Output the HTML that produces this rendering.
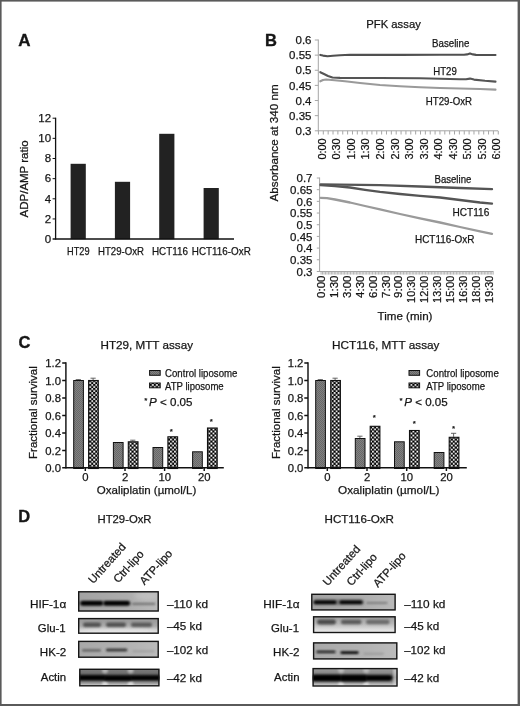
<!DOCTYPE html>
<html lang="en">
<head>
<meta charset="utf-8">
<title>Figure</title>
<style>
html,body{margin:0;padding:0;background:#fff;}
body{width:520px;height:706px;overflow:hidden;position:relative;}
svg{display:block;position:absolute;left:0;top:0;filter:blur(0.35px);}
text{font-family:"Liberation Sans",Arial,Helvetica,sans-serif;fill:#161616;stroke:#161616;stroke-width:0.25;stroke-linejoin:round;}
.b{font-weight:bold;stroke-width:0.35;}
</style>
</head>
<body>
<svg width="520" height="706" viewBox="0 0 520 706">
<defs>
<pattern id="pchk" patternUnits="userSpaceOnUse" width="4.04" height="4.04" x="0.3" y="0.2"><rect width="4.04" height="4.04" fill="#000"/><rect x="2.12" y="0.1" width="1.8" height="1.8" fill="#fff"/><rect x="0.1" y="2.12" width="1.8" height="1.8" fill="#fff"/></pattern>
<pattern id="pgray" patternUnits="userSpaceOnUse" width="2" height="2"><rect width="2" height="2" fill="#828282"/><rect x="0" y="0" width="1" height="1" fill="#686868"/><rect x="1" y="1" width="1" height="1" fill="#686868"/></pattern>
<filter id="bl1" x="-20%" y="-150%" width="140%" height="400%"><feGaussianBlur stdDeviation="0.8"/></filter>
<filter id="bl2" x="-20%" y="-150%" width="140%" height="400%"><feGaussianBlur stdDeviation="1.3"/></filter>
<filter id="bl3" x="-20%" y="-150%" width="140%" height="400%"><feGaussianBlur stdDeviation="2.2"/></filter>
<linearGradient id="gbgL" x1="0" y1="0" x2="1" y2="0"><stop offset="0" stop-color="#a2a2a2"/><stop offset="0.6" stop-color="#adadad"/><stop offset="1" stop-color="#bababa"/></linearGradient>
<linearGradient id="gbgL3" x1="0" y1="0" x2="1" y2="0"><stop offset="0" stop-color="#a8a8a8"/><stop offset="0.6" stop-color="#b2b2b2"/><stop offset="1" stop-color="#bcbcbc"/></linearGradient>
<linearGradient id="gbgV" x1="0" y1="0" x2="0" y2="1"><stop offset="0" stop-color="#969696"/><stop offset="0.5" stop-color="#a8a8a8"/><stop offset="0.78" stop-color="#c8c8c8"/><stop offset="1" stop-color="#dcdcdc"/></linearGradient>
<linearGradient id="gbgV2" x1="0" y1="0" x2="0" y2="1"><stop offset="0" stop-color="#9c9c9c"/><stop offset="0.45" stop-color="#b8b8b8"/><stop offset="0.75" stop-color="#dadada"/><stop offset="1" stop-color="#f0f0f0"/></linearGradient>
<linearGradient id="gbgA" x1="0" y1="0" x2="0" y2="1"><stop offset="0" stop-color="#7e7e7e"/><stop offset="0.25" stop-color="#6e6e6e"/><stop offset="0.5" stop-color="#3c3c3c"/><stop offset="0.72" stop-color="#7c7c7c"/><stop offset="0.86" stop-color="#a8a8a8"/><stop offset="1" stop-color="#ececec"/></linearGradient>
<linearGradient id="gbgA2" x1="0" y1="0" x2="0" y2="1"><stop offset="0" stop-color="#a0a0a0"/><stop offset="0.25" stop-color="#8a8a8a"/><stop offset="0.5" stop-color="#555"/><stop offset="0.75" stop-color="#8c8c8c"/><stop offset="0.88" stop-color="#b8b8b8"/><stop offset="1" stop-color="#e6e6e6"/></linearGradient>
</defs>
<rect x="0" y="0" width="520" height="706" fill="#fff"/>
<!-- frame -->
<rect x="0" y="0" width="520" height="1.6" fill="#5a5a5a"/>
<rect x="0" y="0" width="1.6" height="706" fill="#5a5a5a"/>
<rect x="517.6" y="0" width="2.4" height="706" fill="#5a5a5a"/>
<rect x="0" y="704" width="520" height="2" fill="#5a5a5a"/>
<!-- ============ PANEL A ============ -->
<g id="panelA">
<text x="18.3" y="46.1" font-size="17" class="b">A</text>
<g fill="#222">
<rect x="70.6" y="163.8" width="15.2" height="75.4"/>
<rect x="114.9" y="181.8" width="15.2" height="57.4"/>
<rect x="159.2" y="133.8" width="15.2" height="105.4"/>
<rect x="203.6" y="188" width="15.2" height="51.2"/>
</g>
<g stroke="#111" stroke-width="1.3" fill="none">
<path d="M55.6 117.7 V239.6"/>
<path d="M52.6 239 H234"/>
</g>
<path stroke="#111" stroke-width="1" fill="none" d="M52.6 118.2 H55.6 M52.6 138.35 H55.6 M52.6 158.5 H55.6 M52.6 178.65 H55.6 M52.6 198.8 H55.6 M52.6 218.95 H55.6"/>
<g text-anchor="end">
<text x="51.1" y="121.7" font-size="11.5">12</text>
<text x="51.1" y="141.9" font-size="11.5">10</text>
<text x="51.1" y="162.1" font-size="11.5">8</text>
<text x="51.1" y="182.3" font-size="11.5">6</text>
<text x="51.1" y="202.5" font-size="11.5">4</text>
<text x="51.1" y="222.7" font-size="11.5">2</text>
<text x="51.1" y="242.9" font-size="11.5">0</text>
</g>
<text transform="translate(28.4 178.9) rotate(-90)" font-size="11" text-anchor="middle" textLength="77" lengthAdjust="spacingAndGlyphs">ADP/AMP ratio</text>
<text x="67" y="255.3" font-size="10.7" textLength="22.5" lengthAdjust="spacingAndGlyphs">HT29</text>
<text x="98" y="255.3" font-size="10.7" textLength="46" lengthAdjust="spacingAndGlyphs">HT29-OxR</text>
<text x="152" y="255.3" font-size="10.7" textLength="36" lengthAdjust="spacingAndGlyphs">HCT116</text>
<text x="191.8" y="255.3" font-size="10.7" textLength="59" lengthAdjust="spacingAndGlyphs">HCT116-OxR</text>
</g>
<!-- ============ PANEL B ============ -->
<g id="panelB">
<text x="265" y="45.8" font-size="16.5" class="b">B</text>
<text x="366.3" y="27.5" font-size="11.3" textLength="54.5" lengthAdjust="spacingAndGlyphs">PFK assay</text>
<g stroke="#a6a6a6" stroke-width="1" fill="none">
<path d="M318.3 39.5 V131.3"/>
<path d="M314.8 130.8 H498"/>
<path d="M314.8 40.00 H318.3 M314.8 55.13 H318.3 M314.8 70.26 H318.3 M314.8 85.39 H318.3 M314.8 100.52 H318.3 M314.8 115.65 H318.3 "/>
<path d="M318.45 130.8 V134.5 M323.31 130.8 V134.5 M328.17 130.8 V134.5 M333.03 130.8 V134.5 M337.89 130.8 V134.5 M342.75 130.8 V134.5 M347.61 130.8 V134.5 M352.47 130.8 V134.5 M357.33 130.8 V134.5 M362.19 130.8 V134.5 M367.05 130.8 V134.5 M371.91 130.8 V134.5 M376.77 130.8 V134.5 M381.63 130.8 V134.5 M386.49 130.8 V134.5 M391.35 130.8 V134.5 M396.21 130.8 V134.5 M401.07 130.8 V134.5 M405.93 130.8 V134.5 M410.79 130.8 V134.5 M415.65 130.8 V134.5 M420.51 130.8 V134.5 M425.37 130.8 V134.5 M430.23 130.8 V134.5 M435.09 130.8 V134.5 M439.95 130.8 V134.5 M444.81 130.8 V134.5 M449.67 130.8 V134.5 M454.53 130.8 V134.5 M459.39 130.8 V134.5 M464.25 130.8 V134.5 M469.11 130.8 V134.5 M473.97 130.8 V134.5 M478.83 130.8 V134.5 M483.69 130.8 V134.5 M488.55 130.8 V134.5 M493.41 130.8 V134.5 M498.27 130.8 V134.5 "/>
</g>
<g text-anchor="end">
<text x="311.5" y="44.1" font-size="11.5">0.6</text>
<text x="311.5" y="59.3" font-size="11.5">0.55</text>
<text x="311.5" y="74.4" font-size="11.5">0.5</text>
<text x="311.5" y="89.6" font-size="11.5">0.45</text>
<text x="311.5" y="104.7" font-size="11.5">0.4</text>
<text x="311.5" y="119.9" font-size="11.5">0.35</text>
<text x="311.5" y="135.1" font-size="11.5">0.3</text>
</g>
<text transform="translate(325.8 138.3) rotate(-90)" font-size="10.8" text-anchor="end" textLength="21.3" lengthAdjust="spacingAndGlyphs">0:00</text>
<text transform="translate(340.35 138.3) rotate(-90)" font-size="10.8" text-anchor="end" textLength="21.3" lengthAdjust="spacingAndGlyphs">0:30</text>
<text transform="translate(354.9 138.3) rotate(-90)" font-size="10.8" text-anchor="end" textLength="21.3" lengthAdjust="spacingAndGlyphs">1:00</text>
<text transform="translate(369.45 138.3) rotate(-90)" font-size="10.8" text-anchor="end" textLength="21.3" lengthAdjust="spacingAndGlyphs">1:30</text>
<text transform="translate(384.0 138.3) rotate(-90)" font-size="10.8" text-anchor="end" textLength="21.3" lengthAdjust="spacingAndGlyphs">2:00</text>
<text transform="translate(398.55 138.3) rotate(-90)" font-size="10.8" text-anchor="end" textLength="21.3" lengthAdjust="spacingAndGlyphs">2:30</text>
<text transform="translate(413.1 138.3) rotate(-90)" font-size="10.8" text-anchor="end" textLength="21.3" lengthAdjust="spacingAndGlyphs">3:00</text>
<text transform="translate(427.65 138.3) rotate(-90)" font-size="10.8" text-anchor="end" textLength="21.3" lengthAdjust="spacingAndGlyphs">3:30</text>
<text transform="translate(442.2 138.3) rotate(-90)" font-size="10.8" text-anchor="end" textLength="21.3" lengthAdjust="spacingAndGlyphs">4:00</text>
<text transform="translate(456.75 138.3) rotate(-90)" font-size="10.8" text-anchor="end" textLength="21.3" lengthAdjust="spacingAndGlyphs">4:30</text>
<text transform="translate(471.3 138.3) rotate(-90)" font-size="10.8" text-anchor="end" textLength="21.3" lengthAdjust="spacingAndGlyphs">5:00</text>
<text transform="translate(485.85 138.3) rotate(-90)" font-size="10.8" text-anchor="end" textLength="21.3" lengthAdjust="spacingAndGlyphs">5:30</text>
<text transform="translate(500.4 138.3) rotate(-90)" font-size="10.8" text-anchor="end" textLength="21.3" lengthAdjust="spacingAndGlyphs">6:00</text>
<g fill="none" stroke-width="2.1" stroke-linecap="round" stroke-linejoin="round">
<path stroke="#505050" d="M320.3 54.9 L323 55.6 L327.5 56.2 L333 55.8 L340 55.2 L350 54.8 L400 54.9 L440 54.8 L464 54.8 L467 54.4 L470 53.4 L473 54.4 L476 54.9 L495.5 55"/>
<path stroke="#555" d="M320.3 72.2 L324 74 L328 76 L332.5 77.5 L340 77.9 L380 78 L420 78.3 L460 79.2 L466 79.3 L470 78.6 L474 79.6 L485 80.8 L495.5 81.6"/>
<path stroke="#9a9a9a" d="M320.3 81.3 L323 80 L326 79.5 L332 80 L345 81.3 L360 83 L380 85 L400 86.3 L420 87.3 L440 88 L460 88.5 L480 89 L495.5 89.6"/>
</g>
<text x="432" y="46.8" font-size="10.8" textLength="37.3" lengthAdjust="spacingAndGlyphs">Baseline</text>
<text x="433.3" y="74.7" font-size="10.5" textLength="23.5" lengthAdjust="spacingAndGlyphs">HT29</text>
<text x="425.8" y="104.6" font-size="10.8" textLength="46.2" lengthAdjust="spacingAndGlyphs">HT29-OxR</text>
<text transform="translate(277.9 142.9) rotate(-90)" font-size="11.4" text-anchor="middle" textLength="117" lengthAdjust="spacingAndGlyphs">Absorbance at 340 nm</text>
<g stroke="#a6a6a6" stroke-width="1" fill="none">
<path d="M319.6 177.5 V272"/>
<path d="M316.8 271.5 H493.5"/>
<path d="M316.8 178.00 H319.6 M316.8 189.68 H319.6 M316.8 201.36 H319.6 M316.8 213.04 H319.6 M316.8 224.72 H319.6 M316.8 236.40 H319.6 M316.8 248.08 H319.6 M316.8 259.76 H319.6 "/>
</g>
<path stroke="#a6a6a6" stroke-width="0.85" fill="none" d="M321.07 271.5 V274.6 M322.54 271.5 V274.6 M324.01 271.5 V274.6 M325.48 271.5 V274.6 M326.96 271.5 V274.6 M328.43 271.5 V274.6 M329.90 271.5 V274.6 M331.37 271.5 V274.6 M332.84 271.5 V274.6 M334.31 271.5 V274.6 M335.78 271.5 V274.6 M337.25 271.5 V274.6 M338.73 271.5 V274.6 M340.20 271.5 V274.6 M341.67 271.5 V274.6 M343.14 271.5 V274.6 M344.61 271.5 V274.6 M346.08 271.5 V274.6 M347.55 271.5 V274.6 M349.02 271.5 V274.6 M350.49 271.5 V274.6 M351.97 271.5 V274.6 M353.44 271.5 V274.6 M354.91 271.5 V274.6 M356.38 271.5 V274.6 M357.85 271.5 V274.6 M359.32 271.5 V274.6 M360.79 271.5 V274.6 M362.26 271.5 V274.6 M363.74 271.5 V274.6 M365.21 271.5 V274.6 M366.68 271.5 V274.6 M368.15 271.5 V274.6 M369.62 271.5 V274.6 M371.09 271.5 V274.6 M372.56 271.5 V274.6 M374.03 271.5 V274.6 M375.51 271.5 V274.6 M376.98 271.5 V274.6 M378.45 271.5 V274.6 M379.92 271.5 V274.6 M381.39 271.5 V274.6 M382.86 271.5 V274.6 M384.33 271.5 V274.6 M385.80 271.5 V274.6 M387.27 271.5 V274.6 M388.75 271.5 V274.6 M390.22 271.5 V274.6 M391.69 271.5 V274.6 M393.16 271.5 V274.6 M394.63 271.5 V274.6 M396.10 271.5 V274.6 M397.57 271.5 V274.6 M399.04 271.5 V274.6 M400.52 271.5 V274.6 M401.99 271.5 V274.6 M403.46 271.5 V274.6 M404.93 271.5 V274.6 M406.40 271.5 V274.6 M407.87 271.5 V274.6 M409.34 271.5 V274.6 M410.81 271.5 V274.6 M412.28 271.5 V274.6 M413.76 271.5 V274.6 M415.23 271.5 V274.6 M416.70 271.5 V274.6 M418.17 271.5 V274.6 M419.64 271.5 V274.6 M421.11 271.5 V274.6 M422.58 271.5 V274.6 M424.05 271.5 V274.6 M425.53 271.5 V274.6 M427.00 271.5 V274.6 M428.47 271.5 V274.6 M429.94 271.5 V274.6 M431.41 271.5 V274.6 M432.88 271.5 V274.6 M434.35 271.5 V274.6 M435.82 271.5 V274.6 M437.29 271.5 V274.6 M438.77 271.5 V274.6 M440.24 271.5 V274.6 M441.71 271.5 V274.6 M443.18 271.5 V274.6 M444.65 271.5 V274.6 M446.12 271.5 V274.6 M447.59 271.5 V274.6 M449.06 271.5 V274.6 M450.54 271.5 V274.6 M452.01 271.5 V274.6 M453.48 271.5 V274.6 M454.95 271.5 V274.6 M456.42 271.5 V274.6 M457.89 271.5 V274.6 M459.36 271.5 V274.6 M460.83 271.5 V274.6 M462.31 271.5 V274.6 M463.78 271.5 V274.6 M465.25 271.5 V274.6 M466.72 271.5 V274.6 M468.19 271.5 V274.6 M469.66 271.5 V274.6 M471.13 271.5 V274.6 M472.60 271.5 V274.6 M474.07 271.5 V274.6 M475.55 271.5 V274.6 M477.02 271.5 V274.6 M478.49 271.5 V274.6 M479.96 271.5 V274.6 M481.43 271.5 V274.6 M482.90 271.5 V274.6 M484.37 271.5 V274.6 M485.84 271.5 V274.6 M487.32 271.5 V274.6 M488.79 271.5 V274.6 M490.26 271.5 V274.6 M491.73 271.5 V274.6 M493.20 271.5 V274.6 "/>
<g text-anchor="end">
<text x="312.5" y="182.2" font-size="11.5">0.7</text>
<text x="312.5" y="193.9" font-size="11.5">0.65</text>
<text x="312.5" y="205.6" font-size="11.5">0.6</text>
<text x="312.5" y="217.3" font-size="11.5">0.55</text>
<text x="312.5" y="229.0" font-size="11.5">0.5</text>
<text x="312.5" y="240.7" font-size="11.5">0.45</text>
<text x="312.5" y="252.4" font-size="11.5">0.4</text>
<text x="312.5" y="264.1" font-size="11.5">0.35</text>
<text x="312.5" y="275.8" font-size="11.5">0.3</text>
</g>
<text transform="translate(325.0 275.7) rotate(-90)" font-size="10.8" text-anchor="end" textLength="22.2" lengthAdjust="spacingAndGlyphs">0:00</text>
<text transform="translate(337.91 275.7) rotate(-90)" font-size="10.8" text-anchor="end" textLength="22.2" lengthAdjust="spacingAndGlyphs">1:30</text>
<text transform="translate(350.82 275.7) rotate(-90)" font-size="10.8" text-anchor="end" textLength="22.2" lengthAdjust="spacingAndGlyphs">3:00</text>
<text transform="translate(363.73 275.7) rotate(-90)" font-size="10.8" text-anchor="end" textLength="22.2" lengthAdjust="spacingAndGlyphs">4:30</text>
<text transform="translate(376.64 275.7) rotate(-90)" font-size="10.8" text-anchor="end" textLength="22.2" lengthAdjust="spacingAndGlyphs">6:00</text>
<text transform="translate(389.55 275.7) rotate(-90)" font-size="10.8" text-anchor="end" textLength="22.2" lengthAdjust="spacingAndGlyphs">7:30</text>
<text transform="translate(402.46 275.7) rotate(-90)" font-size="10.8" text-anchor="end" textLength="22.2" lengthAdjust="spacingAndGlyphs">9:00</text>
<text transform="translate(415.37 275.7) rotate(-90)" font-size="10.8" text-anchor="end" textLength="27.2" lengthAdjust="spacingAndGlyphs">10:30</text>
<text transform="translate(428.28 275.7) rotate(-90)" font-size="10.8" text-anchor="end" textLength="27.2" lengthAdjust="spacingAndGlyphs">12:00</text>
<text transform="translate(441.19 275.7) rotate(-90)" font-size="10.8" text-anchor="end" textLength="27.2" lengthAdjust="spacingAndGlyphs">13:30</text>
<text transform="translate(454.1 275.7) rotate(-90)" font-size="10.8" text-anchor="end" textLength="27.2" lengthAdjust="spacingAndGlyphs">15:00</text>
<text transform="translate(467.01 275.7) rotate(-90)" font-size="10.8" text-anchor="end" textLength="27.2" lengthAdjust="spacingAndGlyphs">16:30</text>
<text transform="translate(479.92 275.7) rotate(-90)" font-size="10.8" text-anchor="end" textLength="27.2" lengthAdjust="spacingAndGlyphs">18:00</text>
<text transform="translate(492.83 275.7) rotate(-90)" font-size="10.8" text-anchor="end" textLength="27.2" lengthAdjust="spacingAndGlyphs">19:30</text>
<g fill="none" stroke-width="2.3" stroke-linecap="round" stroke-linejoin="round">
<path stroke="#555" d="M320.6 184.4 L340 184.7 L380 185.2 L420 186.5 L460 188 L492 189.2"/>
<path stroke="#555" d="M320.6 185.2 L335 186.1 L350 187.5 L365 189.8 L380 191.8 L400 194 L420 195.8 L440 197.5 L460 200 L480 202.5 L492 203.7"/>
<path stroke="#9a9a9a" d="M320.6 197.9 L327 198.1 L335 199.5 L350 202.5 L365 206 L380 209.3 L400 214 L420 218.3 L440 222.5 L460 227 L480 231.3 L492 233.8"/>
</g>
<text x="434.5" y="182.5" font-size="10.5" textLength="36.8" lengthAdjust="spacingAndGlyphs">Baseline</text>
<text x="452.5" y="215.5" font-size="10.6" textLength="36.8" lengthAdjust="spacingAndGlyphs">HCT116</text>
<text x="415" y="243" font-size="10.5" textLength="59.5" lengthAdjust="spacingAndGlyphs">HCT116-OxR</text>
<text x="377.5" y="320" font-size="11.3" textLength="55" lengthAdjust="spacingAndGlyphs">Time (min)</text>
</g>
<!-- ============ PANEL C ============ -->
<g id="panelC">
<text x="18.5" y="347.5" font-size="16.5" class="b">C</text>
<path d="M78.3 380.0 V379.6 M75.7 379.6 H80.9" stroke="#555" stroke-width="0.9" fill="none"/>
<path d="M93.1 380.0 V378.2 M90.5 378.2 H95.7" stroke="#555" stroke-width="0.9" fill="none"/>
<rect x="73.7" y="380.5" width="9.7" height="88.0" fill="url(#pgray)" stroke="#111" stroke-width="1"/>
<rect x="88.6" y="380.5" width="9.7" height="88.0" fill="url(#pchk)" stroke="#111" stroke-width="1.1"/>
<path d="M132.8 441.3 V440.2 M130.2 440.2 H135.4" stroke="#555" stroke-width="0.9" fill="none"/>
<rect x="113.4" y="442.5" width="9.7" height="26.0" fill="url(#pgray)" stroke="#111" stroke-width="1"/>
<rect x="128.3" y="441.8" width="9.7" height="26.7" fill="url(#pchk)" stroke="#111" stroke-width="1.1"/>
<rect x="153.0" y="447.5" width="9.7" height="21.0" fill="url(#pgray)" stroke="#111" stroke-width="1"/>
<rect x="167.9" y="436.8" width="9.7" height="31.7" fill="url(#pchk)" stroke="#111" stroke-width="1.1"/>
<rect x="192.6" y="451.8" width="9.7" height="16.7" fill="url(#pgray)" stroke="#111" stroke-width="1"/>
<rect x="207.5" y="428.0" width="9.7" height="40.5" fill="url(#pchk)" stroke="#111" stroke-width="1.1"/>
<g stroke="#111" stroke-width="1.45" fill="none">
<path d="M65.9 362.3 V468.5"/>
<path d="M62.2 467.8 H223.8"/>
<path d="M62.2 363.0 H65.9 M62.2 380.5 H65.9 M62.2 398.0 H65.9 M62.2 415.5 H65.9 M62.2 433.0 H65.9 M62.2 450.5 H65.9 "/>
<path d="M85.3 468.0 V471.0 M125.0 468.0 V471.0 M164.6 468.0 V471.0 M204.2 468.0 V471.0 "/>
</g>
<g text-anchor="end">
<text x="61" y="367.1" font-size="11.3">1.2</text>
<text x="61" y="384.6" font-size="11.3">1.0</text>
<text x="61" y="402.1" font-size="11.3">0.8</text>
<text x="61" y="419.6" font-size="11.3">0.6</text>
<text x="61" y="437.1" font-size="11.3">0.4</text>
<text x="61" y="454.6" font-size="11.3">0.2</text>
<text x="61" y="472.1" font-size="11.3">0.0</text>
</g>
<g text-anchor="middle">
<text x="85.4" y="481.3" font-size="11.3">0</text>
<text x="125.1" y="481.3" font-size="11.3">2</text>
<text x="164.7" y="481.3" font-size="11.3">10</text>
<text x="204.3" y="481.3" font-size="11.3">20</text>
</g>
<text transform="translate(37.3 412.6) rotate(-90)" font-size="11.4" text-anchor="middle" textLength="92.8" lengthAdjust="spacingAndGlyphs">Fractional survival</text>
<text x="96.8" y="494.3" font-size="11.4" textLength="99.5" lengthAdjust="spacingAndGlyphs">Oxaliplatin (µmol/L)</text>
<text x="100.5" y="349.3" font-size="11.4" textLength="92.5" lengthAdjust="spacingAndGlyphs">HT29, MTT assay</text>
<rect x="149.6" y="370.5" width="10.6" height="4.8" fill="url(#pgray)" stroke="#111" stroke-width="1"/>
<rect x="149.6" y="383" width="10.6" height="4.8" fill="url(#pchk)" stroke="#111" stroke-width="1"/>
<text x="165" y="376.8" font-size="10.9" textLength="72.5" lengthAdjust="spacingAndGlyphs">Control liposome</text>
<text x="165" y="390" font-size="10.9" textLength="58.7" lengthAdjust="spacingAndGlyphs">ATP liposome</text>
<text x="144.3" y="405.5" font-size="11.6" textLength="48.2" lengthAdjust="spacingAndGlyphs"><tspan font-size="8" dy="-2.8">*</tspan><tspan dy="2.8" dx="1.6" font-style="italic">P</tspan> &lt; 0.05</text>
<text x="171.3" y="433.5" font-size="8" text-anchor="middle">*</text>
<text x="211.3" y="423.7" font-size="8" text-anchor="middle">*</text>
<path d="M320.3 380.0 V379.6 M317.7 379.6 H322.9" stroke="#555" stroke-width="0.9" fill="none"/>
<path d="M335.1 380.0 V378.2 M332.5 378.2 H337.7" stroke="#555" stroke-width="0.9" fill="none"/>
<rect x="315.7" y="380.5" width="9.7" height="88.0" fill="url(#pgray)" stroke="#111" stroke-width="1"/>
<rect x="330.7" y="380.5" width="9.7" height="88.0" fill="url(#pchk)" stroke="#111" stroke-width="1.1"/>
<path d="M359.9 438.0 V436.2 M357.3 436.2 H362.5" stroke="#555" stroke-width="0.9" fill="none"/>
<rect x="355.3" y="438.5" width="9.7" height="30.0" fill="url(#pgray)" stroke="#111" stroke-width="1"/>
<rect x="370.2" y="426.3" width="9.7" height="42.2" fill="url(#pchk)" stroke="#111" stroke-width="1.1"/>
<rect x="394.5" y="441.8" width="9.7" height="26.7" fill="url(#pgray)" stroke="#111" stroke-width="1"/>
<rect x="409.5" y="430.5" width="9.7" height="38.0" fill="url(#pchk)" stroke="#111" stroke-width="1.1"/>
<path d="M453.6 436.8 V433.3 M451.0 433.3 H456.2" stroke="#555" stroke-width="0.9" fill="none"/>
<rect x="434.2" y="452.5" width="9.7" height="16.0" fill="url(#pgray)" stroke="#111" stroke-width="1"/>
<rect x="449.2" y="437.3" width="9.7" height="31.2" fill="url(#pchk)" stroke="#111" stroke-width="1.1"/>
<g stroke="#111" stroke-width="1.45" fill="none">
<path d="M308 362.3 V468.5"/>
<path d="M304.3 467.8 H466.8"/>
<path d="M304.3 363.0 H308 M304.3 380.5 H308 M304.3 398.0 H308 M304.3 415.5 H308 M304.3 433.0 H308 M304.3 450.5 H308 "/>
<path d="M327.3 468.0 V471.0 M367.0 468.0 V471.0 M406.7 468.0 V471.0 M446.4 468.0 V471.0 "/>
</g>
<g text-anchor="end">
<text x="303.4" y="367.1" font-size="11.3">1.2</text>
<text x="303.4" y="384.6" font-size="11.3">1.0</text>
<text x="303.4" y="402.1" font-size="11.3">0.8</text>
<text x="303.4" y="419.6" font-size="11.3">0.6</text>
<text x="303.4" y="437.1" font-size="11.3">0.4</text>
<text x="303.4" y="454.6" font-size="11.3">0.2</text>
<text x="303.4" y="472.1" font-size="11.3">0.0</text>
</g>
<g text-anchor="middle">
<text x="327.4" y="481.3" font-size="11.3">0</text>
<text x="367.1" y="481.3" font-size="11.3">2</text>
<text x="406.8" y="481.3" font-size="11.3">10</text>
<text x="446.5" y="481.3" font-size="11.3">20</text>
</g>
<text transform="translate(279.8 412.6) rotate(-90)" font-size="11.4" text-anchor="middle" textLength="92.8" lengthAdjust="spacingAndGlyphs">Fractional survival</text>
<text x="338" y="494.3" font-size="11.4" textLength="101.5" lengthAdjust="spacingAndGlyphs">Oxaliplatin (µmol/L)</text>
<text x="332" y="349.3" font-size="11.4" textLength="107.5" lengthAdjust="spacingAndGlyphs">HCT116, MTT assay</text>
<rect x="409" y="370.5" width="10.6" height="4.8" fill="url(#pgray)" stroke="#111" stroke-width="1"/>
<rect x="409" y="383" width="10.6" height="4.8" fill="url(#pchk)" stroke="#111" stroke-width="1"/>
<text x="426.3" y="376.8" font-size="10.9" textLength="72.5" lengthAdjust="spacingAndGlyphs">Control liposome</text>
<text x="426.3" y="390" font-size="10.9" textLength="58.7" lengthAdjust="spacingAndGlyphs">ATP liposome</text>
<text x="399.5" y="405.5" font-size="11.6" textLength="48.2" lengthAdjust="spacingAndGlyphs"><tspan font-size="8" dy="-2.8">*</tspan><tspan dy="2.8" dx="1.6" font-style="italic">P</tspan> &lt; 0.05</text>
<text x="374.3" y="420" font-size="8" text-anchor="middle">*</text>
<text x="414.3" y="426" font-size="8" text-anchor="middle">*</text>
<text x="453.5" y="431.2" font-size="8" text-anchor="middle">*</text>
</g>
<!-- ============ PANEL D ============ -->
<g id="panelD">
<text x="18.3" y="522" font-size="16.5" class="b">D</text>
<text x="97.5" y="523" font-size="11.4" textLength="54" lengthAdjust="spacingAndGlyphs">HT29-OxR</text>
<text x="324.5" y="523" font-size="11.4" textLength="69.5" lengthAdjust="spacingAndGlyphs">HCT116-OxR</text>
<text transform="translate(93.3 584.2) rotate(-48)" font-size="11.3">Untreated</text>
<text transform="translate(118.3 583.6) rotate(-48)" font-size="11.3">Ctrl-lipo</text>
<text transform="translate(144.6 585.6) rotate(-48)" font-size="11.3">ATP-lipo</text>
<text transform="translate(327.7 586.4) rotate(-48)" font-size="11.3">Untreated</text>
<text transform="translate(351.6 586.4) rotate(-48)" font-size="11.3">Ctrl-lipo</text>
<text transform="translate(378.1 588) rotate(-48)" font-size="11.3">ATP-lipo</text>
<g text-anchor="end">
<text x="66.2" y="607.5" font-size="11.3" textLength="36.2" lengthAdjust="spacingAndGlyphs">HIF-1α</text>
<text x="65.7" y="631.5" font-size="11.3" textLength="27.9" lengthAdjust="spacingAndGlyphs">Glu-1</text>
<text x="66.2" y="656.2" font-size="11.3" textLength="26.4" lengthAdjust="spacingAndGlyphs">HK-2</text>
<text x="66.2" y="681.2" font-size="11.3" textLength="25.4" lengthAdjust="spacingAndGlyphs">Actin</text>
</g>
<g text-anchor="end">
<text x="299.5" y="607.5" font-size="11.3" textLength="36.2" lengthAdjust="spacingAndGlyphs">HIF-1α</text>
<text x="299.0" y="631.5" font-size="11.3" textLength="27.9" lengthAdjust="spacingAndGlyphs">Glu-1</text>
<text x="299.5" y="656.2" font-size="11.3" textLength="26.4" lengthAdjust="spacingAndGlyphs">HK-2</text>
<text x="299.5" y="681.2" font-size="11.3" textLength="25.4" lengthAdjust="spacingAndGlyphs">Actin</text>
</g>
<text x="166.9" y="607.7" font-size="11.5" textLength="41.2" lengthAdjust="spacingAndGlyphs">–110 kd</text>
<text x="166.9" y="629.6" font-size="11.5" textLength="35" lengthAdjust="spacingAndGlyphs">–45 kd</text>
<text x="166.9" y="654.2" font-size="11.5" textLength="41.2" lengthAdjust="spacingAndGlyphs">–102 kd</text>
<text x="166.9" y="682.1" font-size="11.5" textLength="35" lengthAdjust="spacingAndGlyphs">–42 kd</text>
<text x="404.2" y="607.7" font-size="11.5" textLength="41.2" lengthAdjust="spacingAndGlyphs">–110 kd</text>
<text x="404.2" y="629.6" font-size="11.5" textLength="35" lengthAdjust="spacingAndGlyphs">–45 kd</text>
<text x="404.2" y="654.2" font-size="11.5" textLength="41.2" lengthAdjust="spacingAndGlyphs">–102 kd</text>
<text x="404.2" y="682.1" font-size="11.5" textLength="35" lengthAdjust="spacingAndGlyphs">–42 kd</text>
<clipPath id="cb1"><rect x="78.1" y="591.2" width="80.7" height="20.4"/></clipPath>
<g clip-path="url(#cb1)">
<rect x="78.1" y="591.2" width="80.7" height="20.4" fill="url(#gbgL)"/>
<rect x="79" y="600.5" width="52.0" height="5.5" rx="2.75" fill="#222" opacity="0.3" filter="url(#bl2)"/><ellipse cx="146" cy="596" rx="12" ry="3.5" fill="#cacaca" opacity="0.6" filter="url(#bl3)"/>
<rect x="80.5" y="601.1" width="22.5" height="4.4" rx="2.2" fill="#000" opacity="1" filter="url(#bl1)"/>
<rect x="103.5" y="601.1" width="26.3" height="4.4" rx="2.2" fill="#000" opacity="1" filter="url(#bl1)"/>
<rect x="132" y="602.9" width="23.5" height="1.8" rx="0.9" fill="#555" opacity="0.8" filter="url(#bl1)"/>
</g>
<rect x="78.69999999999999" y="591.8000000000001" width="79.5" height="19.2" fill="none" stroke="#161616" stroke-width="1.4"/>
<clipPath id="cb2"><rect x="78.1" y="618" width="80.7" height="15.8"/></clipPath>
<g clip-path="url(#cb2)">
<rect x="78.1" y="618" width="80.7" height="15.8" fill="url(#gbgV)"/>
<ellipse cx="118" cy="632" rx="45" ry="3.5" fill="#eee" opacity="0.8" filter="url(#bl3)"/>
<rect x="83" y="622.6" width="18.0" height="4.4" rx="2.2" fill="#444" opacity="0.85" filter="url(#bl2)"/>
<rect x="106" y="622.6" width="20.0" height="4.4" rx="2.2" fill="#444" opacity="0.85" filter="url(#bl2)"/>
<rect x="131" y="622.6" width="21.0" height="4.4" rx="2.2" fill="#4a4a4a" opacity="0.8" filter="url(#bl2)"/>
</g>
<rect x="78.69999999999999" y="618.6" width="79.5" height="14.6" fill="none" stroke="#161616" stroke-width="1.4"/>
<clipPath id="cb3"><rect x="78.1" y="640.8" width="80.7" height="17.0"/></clipPath>
<g clip-path="url(#cb3)">
<rect x="78.1" y="640.8" width="80.7" height="17.0" fill="url(#gbgL3)"/>
<rect x="82" y="649.3" width="19.0" height="2.2" rx="1.1" fill="#444" opacity="0.75" filter="url(#bl1)"/>
<rect x="106" y="648.8" width="21.3" height="2.4" rx="1.2" fill="#1a1a1a" opacity="0.9" filter="url(#bl1)"/>
<rect x="132.5" y="650.3" width="22.1" height="2" rx="1.0" fill="#888" opacity="0.5" filter="url(#bl1)"/>
</g>
<rect x="78.69999999999999" y="641.4" width="79.5" height="15.8" fill="none" stroke="#161616" stroke-width="1.4"/>
<clipPath id="cb4"><rect x="79.2" y="668.7" width="80.3" height="17.7"/></clipPath>
<g clip-path="url(#cb4)">
<rect x="79.2" y="668.7" width="80.3" height="17.7" fill="url(#gbgA)"/>
<ellipse cx="105" cy="670.5" rx="3" ry="3" fill="#c8c8c8" opacity="0.75" filter="url(#bl2)"/><ellipse cx="105" cy="684.5" rx="3" ry="3" fill="#e4e4e4" opacity="0.85" filter="url(#bl2)"/><ellipse cx="130.6" cy="670.5" rx="3" ry="3" fill="#c8c8c8" opacity="0.75" filter="url(#bl2)"/><ellipse cx="130.6" cy="684.5" rx="3" ry="3" fill="#e4e4e4" opacity="0.85" filter="url(#bl2)"/>
<rect x="77" y="675.3" width="29.0" height="5" rx="2.5" fill="#000" opacity="1" filter="url(#bl2)"/>
<rect x="104" y="675.6" width="28.0" height="5.2" rx="2.6" fill="#000" opacity="1" filter="url(#bl2)"/>
<rect x="130" y="675.4" width="32.0" height="4.8" rx="2.4" fill="#000" opacity="1" filter="url(#bl2)"/>
</g>
<rect x="79.8" y="669.3000000000001" width="79.1" height="16.5" fill="none" stroke="#161616" stroke-width="1.4"/>
<clipPath id="cb5"><rect x="311.2" y="593.7" width="84.5" height="16.8"/></clipPath>
<g clip-path="url(#cb5)">
<rect x="311.2" y="593.7" width="84.5" height="16.8" fill="url(#gbgL)"/>
<rect x="313" y="599.3" width="51.0" height="6" rx="3.0" fill="#222" opacity="0.35" filter="url(#bl2)"/>
<rect x="313.8" y="600.6" width="22.7" height="3.4" rx="1.7" fill="#000" opacity="1" filter="url(#bl1)"/>
<rect x="339.4" y="600.6" width="23.1" height="3.4" rx="1.7" fill="#000" opacity="1" filter="url(#bl1)"/>
<rect x="366.3" y="602.0" width="21.2" height="1.8" rx="0.9" fill="#666" opacity="0.8" filter="url(#bl1)"/>
</g>
<rect x="311.8" y="594.3000000000001" width="83.3" height="15.6" fill="none" stroke="#161616" stroke-width="1.4"/>
<clipPath id="cb6"><rect x="313" y="616.2" width="82.7" height="16.9"/></clipPath>
<g clip-path="url(#cb6)">
<rect x="313" y="616.2" width="82.7" height="16.9" fill="url(#gbgV2)"/>
<rect x="317" y="619.6" width="19.0" height="4.8" rx="2.4" fill="#3a3a3a" opacity="0.85" filter="url(#bl2)"/>
<rect x="341" y="619.7" width="20.5" height="4.6" rx="2.3" fill="#444" opacity="0.8" filter="url(#bl2)"/>
<rect x="366" y="619.7" width="23.5" height="4.6" rx="2.3" fill="#555" opacity="0.75" filter="url(#bl2)"/>
</g>
<rect x="313.6" y="616.8000000000001" width="81.5" height="15.7" fill="none" stroke="#161616" stroke-width="1.4"/>
<clipPath id="cb7"><rect x="313" y="642.3" width="84.4" height="17.2"/></clipPath>
<g clip-path="url(#cb7)">
<rect x="313" y="642.3" width="84.4" height="17.2" fill="url(#gbgL3)"/>
<rect x="316.3" y="650.7" width="19.3" height="2.4" rx="1.2" fill="#111" opacity="0.95" filter="url(#bl1)"/>
<rect x="340.4" y="651.3" width="18.3" height="2.6" rx="1.3" fill="#000" opacity="0.95" filter="url(#bl1)"/>
<rect x="363.5" y="652.7" width="20.2" height="2" rx="1.0" fill="#888" opacity="0.6" filter="url(#bl1)"/>
</g>
<rect x="313.6" y="642.9" width="83.2" height="16.0" fill="none" stroke="#161616" stroke-width="1.4"/>
<clipPath id="cb8"><rect x="312.5" y="668" width="85.1" height="18.6"/></clipPath>
<g clip-path="url(#cb8)">
<rect x="312.5" y="668" width="85.1" height="18.6" fill="url(#gbgA2)"/>
<ellipse cx="341" cy="670" rx="3" ry="3" fill="#c8c8c8" opacity="0.75" filter="url(#bl2)"/><ellipse cx="341" cy="685" rx="3" ry="3" fill="#e4e4e4" opacity="0.85" filter="url(#bl2)"/><ellipse cx="366.2" cy="670" rx="3" ry="3" fill="#c8c8c8" opacity="0.75" filter="url(#bl2)"/><ellipse cx="366.2" cy="685" rx="3" ry="3" fill="#e4e4e4" opacity="0.85" filter="url(#bl2)"/><rect x="393" y="668" width="5" height="19" fill="#ddd" opacity="0.6" filter="url(#bl2)"/>
<rect x="311.5" y="674.7" width="30.5" height="6.6" rx="3.3" fill="#000" opacity="1" filter="url(#bl2)"/>
<rect x="340" y="674.8" width="27.5" height="6.8" rx="3.4" fill="#000" opacity="1" filter="url(#bl2)"/>
<rect x="365.5" y="675.2" width="26.5" height="5.6" rx="2.8" fill="#000" opacity="1" filter="url(#bl2)"/>
</g>
<rect x="313.1" y="668.6" width="83.9" height="17.4" fill="none" stroke="#161616" stroke-width="1.4"/>
</g>
</svg>
</body>
</html>
